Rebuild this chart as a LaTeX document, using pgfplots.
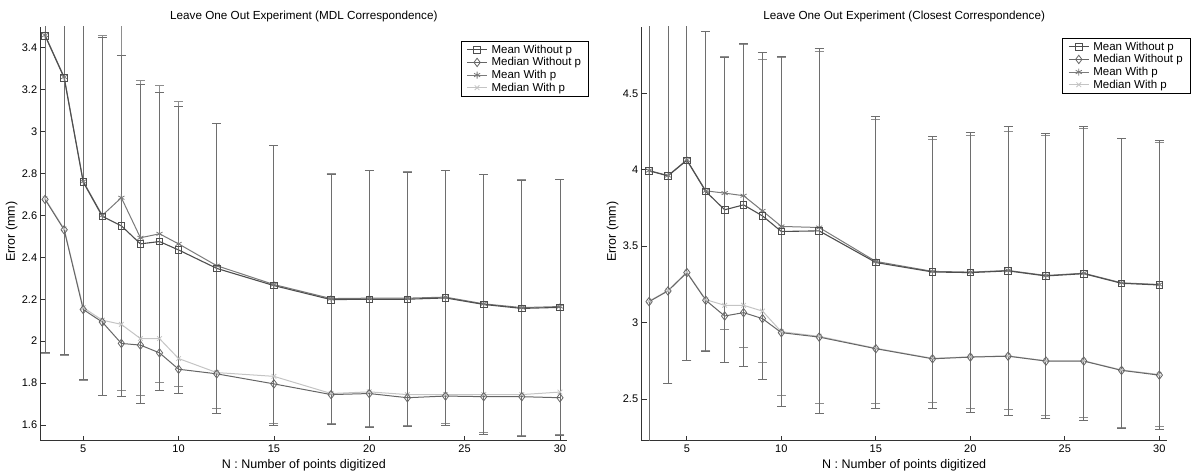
\documentclass[border=0pt]{standalone}
\usepackage{fontspec}
\setmainfont{Liberation Sans}
\usepackage{pgfplots}
\usepackage{pgfplotstable}
\pgfplotsset{compat=1.18}
\definecolor{cMwo}{HTML}{4E4E4E}
\definecolor{cMdwo}{HTML}{666666}
\definecolor{cMw}{HTML}{7A7A7A}
\definecolor{cMdw}{HTML}{C4C4C4}
\definecolor{cEwo}{HTML}{6E6E6E}
\definecolor{cEw}{HTML}{8E8E8E}

\pgfplotstableread{
x  mwo   ewo   mdwo  mw    ew    mdw
3  3.457 1.510 2.676 3.460 1.520 2.680
4  3.256 1.320 2.531 3.260 1.330 2.535
5  2.759 0.940 2.151 2.762 0.950 2.160
6  2.595 0.853 2.091 2.600 0.857 2.100
7  2.550 0.815 1.989 2.684 0.918 2.080
8  2.464 0.761 1.981 2.493 0.751 2.012
9  2.475 0.711 1.944 2.512 0.710 2.012
10 2.435 0.685 1.866 2.464 0.680 1.917
12 2.347 0.690 1.844 2.360 0.680 1.850
15 2.265 0.667 1.796 2.270 0.662 1.832
18 2.198 0.597 1.745 2.203 0.595 1.750
20 2.200 0.614 1.750 2.205 0.610 1.758
22 2.200 0.606 1.730 2.205 0.605 1.745
24 2.206 0.606 1.738 2.210 0.604 1.745
26 2.175 0.618 1.735 2.178 0.615 1.745
28 2.156 0.612 1.735 2.160 0.610 1.745
30 2.161 0.610 1.730 2.165 0.608 1.757
}\mdldata

\pgfplotstableread{
x  mwo   ewo   mdwo  mw    ew    mdw
3  3.993 1.900 3.137 3.995 1.900 3.140
4  3.960 1.360 3.207 3.962 1.360 3.210
5  4.062 1.310 3.327 4.065 1.310 3.330
6  3.858 1.047 3.146 3.862 1.045 3.150
7  3.738 1.000 3.043 3.847 0.892 3.113
8  3.770 1.055 3.065 3.830 0.990 3.113
9  3.698 1.070 3.026 3.731 0.990 3.075
10 3.596 1.147 2.934 3.629 1.104 2.940
12 3.600 1.195 2.905 3.622 1.152 2.910
15 3.393 0.956 2.829 3.400 0.930 2.832
18 3.331 0.890 2.763 3.335 0.860 2.766
20 3.327 0.918 2.774 3.330 0.895 2.776
22 3.338 0.944 2.780 3.341 0.911 2.782
24 3.305 0.935 2.748 3.308 0.915 2.750
26 3.320 0.962 2.748 3.323 0.945 2.750
28 3.257 0.950 2.687 3.260 0.945 2.690
30 3.246 0.945 2.656 3.249 0.930 2.660
}\closedata

\pgfplotsset{
  myax/.style={
    scale only axis,
    anchor=south west,
    axis x line*=bottom, axis y line*=left,
    axis line style={line width=0.9pt, draw=black!80, -},
    tick align=inside, major tick length=5pt,
    tick style={line width=0.8pt, draw=black!80},
    xtick={5,10,15,20,25,30},
    ticklabel style={font=\fontsize{11}{12}\selectfont},
    xticklabel style={yshift=-1pt},
    /pgf/number format/assume math mode=true,
    xlabel={N : Number of points digitized},
    ylabel={Error (mm)},
    label style={font=\fontsize{12.5}{13}\selectfont},
    xlabel style={at={(axis description cs:0.5,0)}, anchor=center, yshift=-25pt},
    ylabel style={at={([xshift=-29pt,yshift=2pt]axis description cs:0,0.5)}, anchor=center},
    title style={at={(axis description cs:0.5,1)}, anchor=center, yshift=4.7pt, font=\fontsize{11.7}{12}\selectfont},
    clip mode=global,
    legend cell align=left,
    legend image code/.code={\draw[mark repeat=2,mark phase=2] plot coordinates {(0cm,0cm) (0.35cm,0cm) (0.7cm,0cm)};},
    legend style={draw=black, line width=0.8pt, font=\fontsize{11.5}{12}\selectfont,
      inner xsep=5.5pt, inner ysep=1.5pt, row sep=-1.2pt, column sep=2pt, fill=white},
  },
  ebwo/.style={
    error bars/y dir=both, error bars/y explicit, error bars/error mark=-,
    error bars/error bar style={draw=cEwo, line width=0.9pt},
    error bars/error mark options={rotate=90, draw=cEwo, line width=0.9pt, mark size=4.5pt}},
  ebw/.style={
    error bars/y dir=both, error bars/y explicit, error bars/error mark=-,
    error bars/error bar style={draw=cEw, line width=0.9pt},
    error bars/error mark options={rotate=90, draw=cEw, line width=0.9pt, mark size=4.5pt}},
  smwo/.style={color=cMwo, line width=1.1pt, mark=square, mark size=3.3pt, mark options={line width=0.8pt}},
  smdwo/.style={color=cMdwo, line width=1.0pt, mark=diamond, mark size=4.2pt, mark options={line width=0.8pt}},
  smw/.style={color=cMw, line width=1.0pt, mark=asterisk, mark size=3.5pt, mark options={line width=0.8pt}},
  smdw/.style={color=cMdw, line width=1.0pt, mark=x, mark size=3.3pt, mark options={line width=0.8pt}},
}

\begin{document}
\begin{tikzpicture}
\path[use as bounding box] (0pt,0pt) rectangle (1200pt,474pt);

\begin{axis}[myax, at={(40.7pt,33.3pt)}, width=526.3pt, height=414pt,
  xmin=2.77, xmax=30.37, ymin=1.525, ymax=3.50,
  ytick={1.6,1.8,2,2.2,2.4,2.6,2.8,3,3.2,3.4},
  title={Leave One Out Experiment (MDL Correspondence)},
  legend style={at={(1.0418,0.9655)}, anchor=north east}]
\addlegendimage{smwo}\addlegendentry{Mean Without p}
\addlegendimage{smdwo}\addlegendentry{Median Without p}
\addlegendimage{smw}\addlegendentry{Mean With p}
\addlegendimage{smdw}\addlegendentry{Median With p}
\addplot[forget plot, smdw] table[x=x, y=mdw] {\mdldata};
\addplot[forget plot, smw, ebw] table[x=x, y=mw, y error=ew] {\mdldata};
\addplot[forget plot, smwo, ebwo] table[x=x, y=mwo, y error=ewo] {\mdldata};
\addplot[forget plot, smdwo] table[x=x, y=mdwo] {\mdldata};
\end{axis}

\begin{axis}[myax, at={(641.7pt,33.3pt)}, width=525pt, height=414pt,
  xmin=2.61, xmax=30.39, ymin=2.227, ymax=4.936,
  ytick={2.5,3,3.5,4,4.5},
  title={Leave One Out Experiment (Closest Correspondence)},
  legend style={at={(1.0457,0.9727)}, anchor=north east}]
\addlegendimage{smwo}\addlegendentry{Mean Without p}
\addlegendimage{smdwo}\addlegendentry{Median Without p}
\addlegendimage{smw}\addlegendentry{Mean With p}
\addlegendimage{smdw}\addlegendentry{Median With p}
\addplot[forget plot, smdw] table[x=x, y=mdw] {\closedata};
\addplot[forget plot, smw, ebw] table[x=x, y=mw, y error=ew] {\closedata};
\addplot[forget plot, smwo, ebwo] table[x=x, y=mwo, y error=ewo] {\closedata};
\addplot[forget plot, smdwo] table[x=x, y=mdwo] {\closedata};
\end{axis}
\end{tikzpicture}
\end{document}
